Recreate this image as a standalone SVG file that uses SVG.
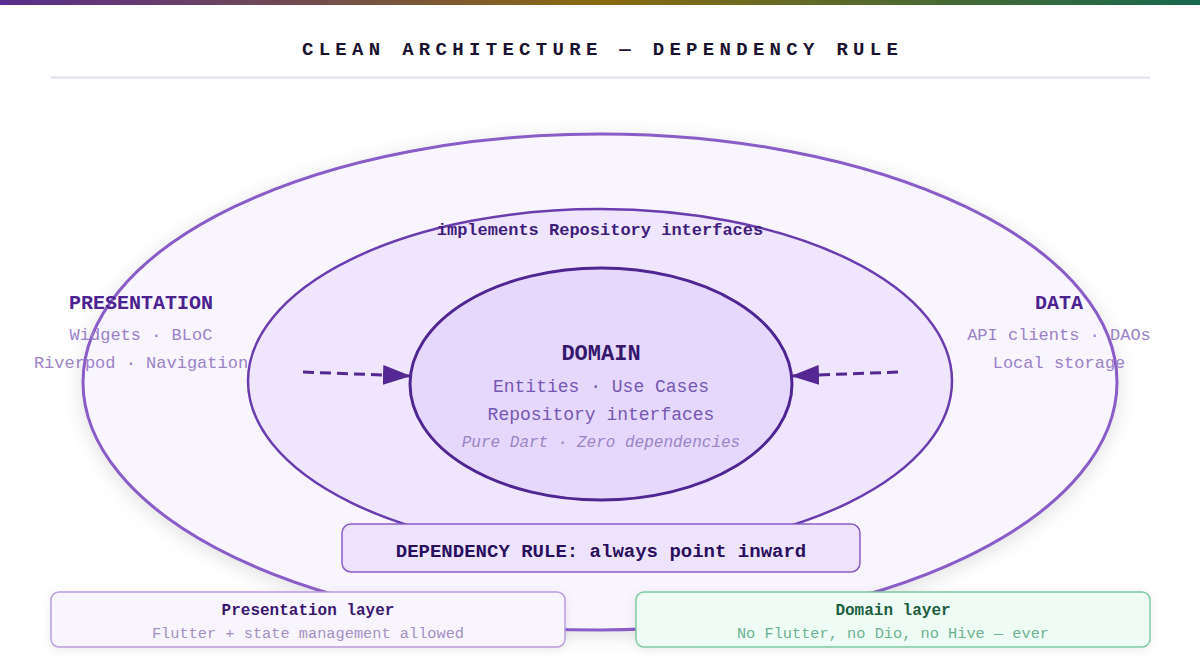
<svg xmlns="http://www.w3.org/2000/svg" width="1200" height="668" viewBox="0 0 1200 668">
  <defs>
    <linearGradient id="topbar" x1="0" y1="0" x2="1" y2="0">
      <stop offset="0" stop-color="#5a2d8f"/>
      <stop offset="0.5" stop-color="#8a6a10"/>
      <stop offset="1" stop-color="#17694f"/>
    </linearGradient>
    <filter id="shadow" x="-10%" y="-10%" width="120%" height="125%">
      <feDropShadow dx="0" dy="4" stdDeviation="10" flood-color="#000" flood-opacity="0.12"/>
    </filter>
    <filter id="boxshadow" x="-10%" y="-30%" width="120%" height="160%">
      <feDropShadow dx="0" dy="2" stdDeviation="5" flood-color="#000" flood-opacity="0.08"/>
    </filter>
    <marker id="arrow" viewBox="0 0 28 20" refX="27" refY="10" markerWidth="28" markerHeight="20" markerUnits="userSpaceOnUse" orient="auto">
      <path d="M0,0 L28,10 L0,20 Z" fill="#542792"/>
    </marker>
  </defs>
  <style>
    text { font-family: "Liberation Mono", "DejaVu Sans Mono", monospace; text-anchor: middle; }
    .title { font-size: 19px; font-weight: bold; fill: #1a1230; letter-spacing: 5.3px; }
    .layer { font-size: 20px; font-weight: bold; fill: #4b2290; }
    .item { font-size: 17px; fill: #9b82c9; }
    .dom { font-size: 22px; font-weight: bold; fill: #35176e; }
    .ditem { font-size: 18px; fill: #7556b4; }
    .dnote { font-size: 16px; font-style: italic; fill: #9c84c8; }
    .impl { font-size: 17px; font-weight: bold; fill: #3f1d7c; }
    .rule { font-size: 19px; font-weight: bold; fill: #2a0f5e; }
    .bt { font-size: 16px; font-weight: bold; }
    .bs { font-size: 15.3px; }
    .conn { stroke: #542792; stroke-width: 3; stroke-dasharray: 11 6; fill: none; }
  </style>

  <rect x="0" y="0" width="1200" height="5" fill="url(#topbar)"/>
  <text class="title" x="602.6" y="55">CLEAN ARCHITECTURE — DEPENDENCY RULE</text>
  <line x1="51" y1="77.5" x2="1150" y2="77.5" stroke="#e2ddf0" stroke-width="2"/>

  <g id="outer-layer">
    <ellipse cx="600" cy="382" rx="517" ry="248" fill="#f9f5fe" stroke="#8a5cc8" stroke-width="3" filter="url(#shadow)"/>
  </g>
  <g id="middle-layer">
    <ellipse cx="600" cy="381" rx="352" ry="172" fill="#efe6fd" stroke="#6a3cb0" stroke-width="2.5"/>
    <text class="impl" x="600" y="235">implements Repository interfaces</text>
  </g>
  <g id="domain">
    <ellipse cx="601" cy="384" rx="191" ry="116" fill="#e6d8fc" stroke="#4f2493" stroke-width="3"/>
    <text class="dom" x="601" y="360">DOMAIN</text>
    <text class="ditem" x="601" y="392">Entities · Use Cases</text>
    <text class="ditem" x="601" y="420">Repository interfaces</text>
    <text class="dnote" x="601" y="447">Pure Dart · Zero dependencies</text>
  </g>
  <g id="presentation">
    <text class="layer" x="141" y="309">PRESENTATION</text>
    <text class="item" x="141" y="340">Widgets · BLoC</text>
    <text class="item" x="141" y="368">Riverpod · Navigation</text>
  </g>
  <g id="data">
    <text class="layer" x="1059" y="309">DATA</text>
    <text class="item" x="1059" y="340">API clients · DAOs</text>
    <text class="item" x="1059" y="368">Local storage</text>
  </g>

  <g id="connectors">
    <path class="conn" d="M303,372 L410,376" marker-end="url(#arrow)"/>
    <path class="conn" d="M898,372 L792,376" marker-end="url(#arrow)"/>
  </g>

  <g id="dependency-rule">
    <rect x="342" y="524" width="518" height="48" rx="9" fill="#eee3fd" stroke="#8a5cc8" stroke-width="1.5"/>
    <text class="rule" x="601" y="557">DEPENDENCY RULE: always point inward</text>
  </g>
  <g id="presentation-layer-note">
    <rect x="51" y="592" width="514" height="55" rx="8" fill="#f9f5fe" stroke="#b99be1" stroke-width="1.5" filter="url(#boxshadow)"/>
    <text class="bt" x="308" y="615" fill="#3a1870">Presentation layer</text>
    <text class="bs" x="308" y="638" fill="#a390c4">Flutter + state management allowed</text>
  </g>
  <g id="domain-layer-note">
    <rect x="636" y="592" width="514" height="55" rx="8" fill="#effcf6" stroke="#7dc9a1" stroke-width="1.5" filter="url(#boxshadow)"/>
    <text class="bt" x="893" y="615" fill="#1b5e3e">Domain layer</text>
    <text class="bs" x="893" y="638" fill="#6db392">No Flutter, no Dio, no Hive — ever</text>
  </g>
</svg>
